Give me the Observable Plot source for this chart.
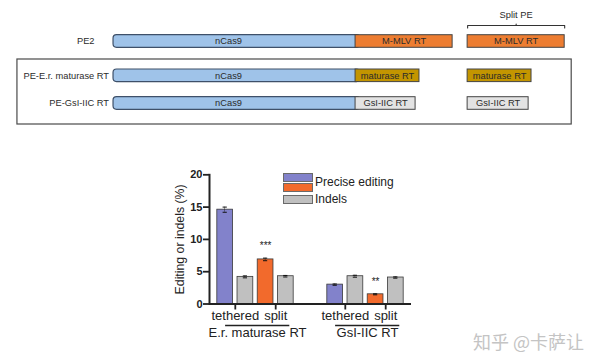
<!DOCTYPE html>
<html>
<head>
<meta charset="utf-8">
<script src="https://cdn.jsdelivr.net/npm/d3@7"></script>
<script src="https://cdn.jsdelivr.net/npm/@observablehq/plot@0.6"></script>
<style>
html, body { margin: 0; padding: 0; background: #fff; }
#wrap { position: relative; width: 600px; height: 363px; overflow: hidden; font-family: Arial, "Liberation Sans", sans-serif; }
#diagram { position: absolute; left: 0; top: 0; }
#bars { position: absolute; left: 0; top: 140px; }
.sw { position: absolute; box-sizing: border-box; border: 1px solid #6a6a6a; }
.lt { position: absolute; font-size: 12px; color: #222; line-height: 14px; white-space: nowrap; }
#wm { position: absolute; left: 473px; top: 331px; font-family: "Noto Sans CJK SC", sans-serif; font-size: 18px; line-height: 20px; color: #c4c4c4; white-space: nowrap; }
</style>
</head>
<body>
<div id="wrap">
  <div id="diagram"></div>
  <div id="bars"></div>
  <div id="legend"></div>
  <div id="wm">知乎 @卡萨让</div>
</div>
<script>
// ---------- Diagram data ----------
const constructs = ["PE2", "PE-E.r. maturase RT", "PE-GsI-IIC RT"];
const casName = "nCas9";
const casLength = 100;
const rtNames = ["M-MLV RT", "maturase RT", "GsI-IIC RT"];
const rtLengths = [40.1, 26.4, 24.8];
const splitRtLengths = [40.1, 26.4, 25.2];
const rtColors = ["#ed7d31", "#c39500", "#e3e3e3"];
const splitTitle = "Split PE";

// ---------- Bar chart data ----------
const groups = ["E.r. maturase RT", "GsI-IIC RT"];
const conditions = ["tethered", "split"];
const seriesNames = ["Precise editing", "Indels"];
const preciseTethered = [14.6, 3.0];
const preciseTetheredErr = [0.4, 0.1];
const indelsTethered = [4.2, 4.3];
const indelsTetheredErr = [0.15, 0.15];
const preciseSplit = [6.9, 1.5];
const preciseSplitErr = [0.2, 0.08];
const indelsSplit = [4.3, 4.1];
const indelsSplitErr = [0.12, 0.1];
const significance = ["***", "**"];
const yTicks = [0, 5, 10, 15, 20];
const yLabel = "Editing or indels (%)";

// ---------- Styles / layout ----------
const font = 'Arial, "Liberation Sans", sans-serif';
const casFill = "#9fc3e9", casStroke = "#3e5069";
const purple = "#8282cb", orange = "#f26a2c", grey = "#c0c0c0";
const rowY = [41, 75.3, 103];
const half = 6.3;
const splitStart = 146.3;
const dFont = 9.3;

const domains = [];
constructs.forEach((c, i) => {
  domains.push({row: i, name: casName, x1: 0, x2: casLength, fill: casFill, cas: true});
  domains.push({row: i, name: rtNames[i], x1: casLength, x2: casLength + rtLengths[i], fill: rtColors[i]});
  domains.push({row: i, name: rtNames[i], x1: splitStart, x2: splitStart + splitRtLengths[i], fill: rtColors[i]});
});
const sx1 = splitStart, sx2 = splitStart + splitRtLengths[0], sxm = (sx1 + sx2) / 2;
const bracket = [
  {x: sx1, y: 27.5}, {x: sx1, y: 25}, {x: sx2, y: 25}, {x: sx2, y: 27.5}
];

const diagram = Plot.plot({
  width: 600, height: 140, margin: 0,
  x: {domain: [-46.7, 201.2], range: [0, 600], axis: null},
  y: {domain: [0, 140], range: [0, 140], axis: null},
  color: {type: "identity"},
  style: {fontFamily: font, background: "transparent", color: "#333"},
  marks: [
    Plot.rect([0], {x1: -39.7, x2: 189.3, y1: 59, y2: 124, fill: "none", stroke: "#4a4a4a", strokeWidth: 1.2}),
    Plot.rect(domains.filter(d => d.cas), {
      x1: "x1", x2: d => d.x2 + 2, y1: d => rowY[d.row] - half, y2: d => rowY[d.row] + half,
      fill: casFill, stroke: casStroke, strokeWidth: 1.2, rx: 3.5
    }),
    Plot.rect(domains.filter(d => !d.cas), {
      x1: "x1", x2: "x2", y1: d => rowY[d.row] - half, y2: d => rowY[d.row] + half,
      fill: "fill", stroke: "#444", strokeWidth: 1
    }),
    Plot.text(domains.filter(d => d.cas), {
      x: d => (d.x1 + d.x2) / 2, y: d => rowY[d.row], text: "name",
      dx: -6, fontSize: dFont, fill: "#2b2b2b"
    }),
    Plot.text(domains.filter(d => !d.cas), {
      x: d => (d.x1 + d.x2) / 2, y: d => rowY[d.row], text: "name",
      fontSize: dFont, fill: "#2b2b2b"
    }),
    Plot.text([constructs[0]], {x: 0, y: rowY[0], dx: -19, textAnchor: "end", fontSize: dFont, fill: "#2b2b2b"}),
    Plot.text(constructs.slice(1), {x: 0, y: (d, i) => rowY[i + 1], dx: -4.5, textAnchor: "end", fontSize: dFont, fill: "#2b2b2b"}),
    Plot.line(bracket, {x: "x", y: "y", stroke: "#333", strokeWidth: 1.1}),
    Plot.line([{x: sxm, y: 25}, {x: sxm, y: 23.5}], {x: "x", y: "y", stroke: "#333", strokeWidth: 1.1}),
    Plot.text([splitTitle], {x: sxm, y: 15, fontSize: dFont, fill: "#2b2b2b"})
  ]
});
document.getElementById("diagram").append(diagram);

// ---------- Bar chart ----------
const mL = 209, mR = 189, W = 600;
const pIn = 0.272, pOut = 0.046;
const bandStep = (W - mL - mR) / (groups.length - pIn + 2 * pOut);
const bw = bandStep * (1 - pIn);
const step = bw / 4;
const pad = step * 0.09;

const slots = [
  {values: preciseTethered, errs: preciseTetheredErr, fill: purple},
  {values: indelsTethered, errs: indelsTetheredErr, fill: grey},
  {values: preciseSplit, errs: preciseSplitErr, fill: orange},
  {values: indelsSplit, errs: indelsSplitErr, fill: grey}
];

const barMarks = [];
slots.forEach((s, k) => {
  const data = groups.map((g, i) => ({group: g, value: s.values[i], err: s.errs[i]}));
  const c = k * step + step / 2;
  barMarks.push(Plot.barY(data, {
    x: "group", y: "value", fill: s.fill, stroke: "#3a3a3a", strokeWidth: 0.8,
    insetLeft: pad + k * step, insetRight: pad + (3 - k) * step
  }));
  barMarks.push(Plot.barY(data, {
    x: "group", y1: d => d.value - d.err, y2: d => d.value + d.err, fill: "#111",
    insetLeft: c - 0.6, insetRight: bw - c - 0.6
  }));
  barMarks.push(Plot.tickY(data, {
    x: "group", y: d => d.value + d.err, stroke: "#111", strokeWidth: 1,
    insetLeft: c - 2.5, insetRight: bw - c - 2.5
  }));
  barMarks.push(Plot.tickY(data, {
    x: "group", y: d => d.value - d.err, stroke: "#111", strokeWidth: 1,
    insetLeft: c - 2.5, insetRight: bw - c - 2.5
  }));
});

const starData = groups.map((g, i) => ({group: g, value: preciseSplit[i] + preciseSplitErr[i], text: significance[i]}));
const groupData = groups.map(g => ({group: g}));

const bars = Plot.plot({
  width: W, height: 223,
  marginLeft: mL, marginRight: mR, marginTop: 34.3, marginBottom: 59.5,
  x: {type: "band", domain: groups, paddingInner: pIn, paddingOuter: pOut, axis: null},
  y: {domain: [0, 20], axis: null},
  style: {fontFamily: font, background: "transparent", color: "#222"},
  marks: [
    ...barMarks,
    Plot.text(starData, {x: "group", y: "value", text: "text", dx: 2.5 * step - bw / 2, dy: -12, fontSize: 10, fill: "#222"}),
    Plot.ruleY([0], {stroke: "#222", strokeWidth: 2}),
    Plot.frame({anchor: "left", stroke: "#222", strokeWidth: 2}),
    Plot.axisY({ticks: yTicks, tickSize: 6, tickPadding: 1, fontSize: 11, fontWeight: "bold", strokeWidth: 1.8, label: null}),
    Plot.text([yLabel], {frameAnchor: "left", textAnchor: "middle", lineAnchor: "middle", rotate: -90, dx: -29, fontSize: 12.3, fill: "#222"}),
    Plot.axisX({tickFormat: () => conditions[0], dx: -step, tickSize: 6, tickPadding: 1, fontSize: 13, strokeWidth: 1.8, label: null}),
    Plot.axisX({tickFormat: () => conditions[1], dx: step, tickSize: 6, tickPadding: 1, fontSize: 13, strokeWidth: 1.8, label: null}),
    Plot.tickY(groupData, {x: "group", y: () => 0, dy: 21.5, dx: 1.5, insetLeft: 8.6, insetRight: 7.2, stroke: "#222", strokeWidth: 1.4}),
    Plot.text(groupData, {x: "group", frameAnchor: "bottom", text: "group", dy: 33, dx: 2, fontSize: 13, fill: "#222"})
  ]
});
document.getElementById("bars").append(bars);

// ---------- Legend (HTML) ----------
const legend = document.getElementById("legend");
const legendItems = [
  {label: seriesNames[0], swatches: [purple, orange], top: 172.5},
  {label: seriesNames[1], swatches: [grey], top: 194.5}
];
legendItems.forEach(item => {
  item.swatches.forEach((c, j) => {
    const s = document.createElement("div");
    s.className = "sw";
    s.style.cssText = `left:283px;top:${item.top + j * 10}px;width:30px;height:9px;background:${c};`;
    legend.append(s);
  });
  const t = document.createElement("div");
  t.className = "lt";
  const cy = item.top + (item.swatches.length * 10 - 1) / 2;
  t.style.cssText = `left:315px;top:${cy - 7}px;`;
  t.textContent = item.label;
  legend.append(t);
});
</script>
</body>
</html>
